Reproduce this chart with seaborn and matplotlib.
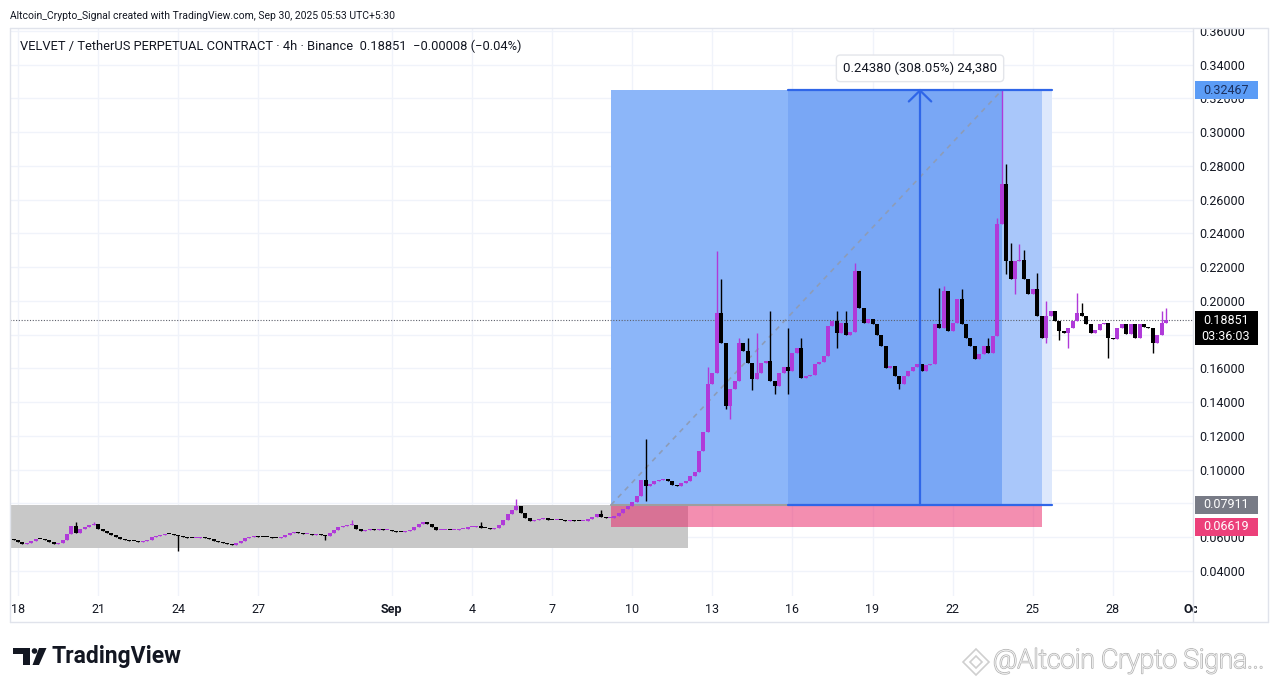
import matplotlib
matplotlib.use("Agg")
import matplotlib.pyplot as plt
import matplotlib.patches as mpatches
import matplotlib.patheffects as pe
from matplotlib.transforms import Affine2D, Bbox, TransformedBbox, blended_transform_factory
import numpy as np
import pandas as pd
import seaborn as sns

# ---- VELVET/USDT perpetual, 4h candles ----
first_bar = "2025-08-17 16:00"
first_open = 0.0596
closes = [
    0.0590, 0.0585, 0.0570, 0.0558, 0.0565, 0.0578, 0.0588, 0.0586, 0.0582, 0.0572,  # 0
    0.0560, 0.0568, 0.0585, 0.0620, 0.0665, 0.0625, 0.0650, 0.0660, 0.0672, 0.0678,  # 10
    0.0648, 0.0635, 0.0625, 0.0615, 0.0600, 0.0590, 0.0582, 0.0578, 0.0575, 0.0572,  # 20
    0.0575, 0.0585, 0.0598, 0.0608, 0.0615, 0.0618, 0.0617, 0.0612, 0.0605, 0.0598,  # 30
    0.0595, 0.0592, 0.0595, 0.0598, 0.0594, 0.0590, 0.0578, 0.0572, 0.0565, 0.0560,  # 40
    0.0555, 0.0565, 0.0578, 0.0592, 0.0600, 0.0605, 0.0603, 0.0600, 0.0598, 0.0596,  # 50
    0.0594, 0.0600, 0.0610, 0.0622, 0.0632, 0.0625, 0.0618, 0.0620, 0.0615, 0.0617,  # 60
    0.0613, 0.0605, 0.0625, 0.0645, 0.0660, 0.0665, 0.0670, 0.0672, 0.0650, 0.0638,  # 70
    0.0645, 0.0648, 0.0644, 0.0646, 0.0642, 0.0645, 0.0636, 0.0632, 0.0630, 0.0634,  # 80
    0.0645, 0.0662, 0.0680, 0.0692, 0.0675, 0.0660, 0.0640, 0.0642, 0.0645, 0.0640,  # 90
    0.0643, 0.0646, 0.0650, 0.0658, 0.0662, 0.0666, 0.0655, 0.0652, 0.0648, 0.0655,  # 100
    0.0672, 0.0700, 0.0735, 0.0760, 0.0783, 0.0745, 0.0712, 0.0698, 0.0702, 0.0710,  # 110
    0.0713, 0.0702, 0.0700, 0.0703, 0.0700, 0.0698, 0.0699, 0.0695, 0.0693, 0.0697,  # 120
    0.0705, 0.0722, 0.0735, 0.0718, 0.0712, 0.0715, 0.0728, 0.0745, 0.0765, 0.0782,  # 130
    0.0810, 0.0843, 0.0940, 0.0900, 0.0915, 0.0930, 0.0938, 0.0944, 0.0930, 0.0910,  # 140
    0.0902, 0.0918, 0.0935, 0.0960, 0.0985, 0.1110, 0.1220, 0.1510, 0.1570, 0.1930,  # 150
    0.1750, 0.1377, 0.1480, 0.1525, 0.1750, 0.1700, 0.1630, 0.1537, 0.1575, 0.1630,  # 160
    0.1645, 0.1525, 0.1496, 0.1570, 0.1610, 0.1585, 0.1690, 0.1720, 0.1540, 0.1555,  # 170
    0.1560, 0.1626, 0.1640, 0.1674, 0.1850, 0.1880, 0.1810, 0.1870, 0.1800, 0.1815,  # 180
    0.2178, 0.1958, 0.1870, 0.1890, 0.1865, 0.1800, 0.1733, 0.1600, 0.1615, 0.1555,  # 190
    0.1507, 0.1555, 0.1585, 0.1610, 0.1626, 0.1584, 0.1620, 0.1625, 0.1863, 0.1840,  # 200
    0.2060, 0.1820, 0.1867, 0.2012, 0.1864, 0.1780, 0.1733, 0.1656, 0.1685, 0.1733,  # 210
    0.1690, 0.1790, 0.2457, 0.2694, 0.2237, 0.2130, 0.2237, 0.2245, 0.2130, 0.2040,  # 220
    0.2070, 0.1910, 0.1780, 0.1910, 0.1940, 0.1880, 0.1820, 0.1810, 0.1840, 0.1880,  # 230
    0.1930, 0.1910, 0.1864, 0.1810, 0.1825, 0.1860, 0.1870, 0.1780, 0.1775, 0.1840,  # 240
    0.1860, 0.1804, 0.1860, 0.1780, 0.1860, 0.1845, 0.1840, 0.1750, 0.1800, 0.1870,  # 250
    0.1885,
]
# wick extremes that stick out of the bodies (bar index -> price)
wick_high = {15: 0.0690, 19: 0.0690, 77: 0.0700, 106: 0.0690, 114: 0.0825, 133: 0.0760,
             143: 0.1180, 157: 0.1610, 159: 0.2297, 160: 0.2130, 164: 0.1780, 166: 0.1780,
             168: 0.1810, 171: 0.1940, 175: 0.1840, 178: 0.1780, 186: 0.1940, 188: 0.1940,
             190: 0.2226, 209: 0.2077, 210: 0.2090, 214: 0.2070, 220: 0.1780, 222: 0.2490,
             223: 0.32467, 224: 0.2810, 225: 0.2340, 227: 0.2335, 228: 0.2300, 231: 0.2164,
             233: 0.2000, 240: 0.2047, 241: 0.1990, 259: 0.1940, 260: 0.1955}
wick_low = {38: 0.0516, 71: 0.0585, 143: 0.0815, 161: 0.1360, 162: 0.1300, 167: 0.1470,
            172: 0.1450, 175: 0.1450, 186: 0.1720, 200: 0.1480, 224: 0.2160, 226: 0.2040,
            233: 0.1750, 236: 0.1770, 238: 0.1720, 247: 0.1660, 257: 0.1690}

# drawings on the chart
last_price = 0.18851
last_countdown = "03:36:03"
entry_price = 0.07911
target_price = 0.32467
stop_price = 0.06619
trade_start = "2025-09-09 05:00"
trade_end = "2025-09-25 08:20"
target_hit = "2025-09-23 20:00"
range_start = "2025-09-15 20:10"
range_mid = "2025-09-20 18:40"
range_end = "2025-09-25 17:30"
range_label = "0.24380 (308.05%) 24,380"
box_start = "2025-08-17 00:00"
box_end = "2025-09-12 02:10"
box_low = 0.0535

price_ticks = [0.04, 0.06, 0.08, 0.10, 0.12, 0.14, 0.16, 0.18, 0.20, 0.22, 0.24,
               0.26, 0.28, 0.30, 0.32, 0.34, 0.36]
date_ticks = ["2025-08-18", "2025-08-21", "2025-08-24", "2025-08-27", "2025-09-01",
              "2025-09-04", "2025-09-07", "2025-09-10", "2025-09-13", "2025-09-16",
              "2025-09-19", "2025-09-22", "2025-09-25", "2025-09-28"]
date_labels = ["18", "21", "24", "27", "Sep", "4", "7", "10", "13", "16", "19", "22", "25", "28"]
next_month = ("2025-10-01", "Oct")

PURPLE = "#b03ad9"
BLACK = "#000000"
TXT = "#131722"

origin = pd.Timestamp("2025-08-18")


def day(t):
    return (pd.Timestamp(t) - origin) / pd.Timedelta(days=1)


df = pd.DataFrame({"time": pd.date_range(first_bar, periods=len(closes), freq="4h"),
                   "close": closes})
df["open"] = [first_open] + closes[:-1]
df["high"] = [max(o, c, wick_high.get(i, 0)) for i, (o, c) in enumerate(zip(df.open, df.close))]
df["low"] = [min(o, c, wick_low.get(i, 1)) for i, (o, c) in enumerate(zip(df.open, df.close))]
df["x"] = (df.time - origin) / pd.Timedelta(days=1)
df["up"] = df.close >= df.open

sns.set_theme(style="white")
plt.rcParams["font.family"] = ["Roboto", "DejaVu Sans"]

W, H = 1280, 689
fig = plt.figure(figsize=(W / 100, H / 100), dpi=100)
fig.patch.set_facecolor("white")
ax_l, ax_r, ax_t, ax_b = 10, 1193, 28, 596
ax = fig.add_axes([ax_l / W, 1 - ax_b / H, (ax_r - ax_l) / W, (ax_b - ax_t) / H])
ax.set_xlim(-0.30, 44.0)
ax.set_ylim(0.0251, 0.3617)
for s in ax.spines.values():
    s.set_visible(False)
ax.set_facecolor("white")
ax.grid(True, color="#f0f3fa", lw=1)
ax.set_axisbelow(True)

# gray consolidation box
ax.add_patch(mpatches.Rectangle((day(box_start), box_low), day(box_end) - day(box_start),
                                entry_price - box_low, fc="#c8c8c8", ec="none", zorder=1))

# long position: profit area shades + stop area
ts, te, th = day(trade_start), day(trade_end), day(target_hit)
rs, rm, re_ = day(range_start), day(range_mid), day(range_end)
for x0, x1, c in [(ts, rs, "#8cb6f9"), (rs, th, "#79a7f5"), (th, te, "#a9c7fa"), (te, re_, "#dde8fc")]:
    ax.add_patch(mpatches.Rectangle((x0, entry_price), x1 - x0, target_price - entry_price,
                                    fc=c, ec="none", zorder=2))
ax.add_patch(mpatches.Rectangle((ts, stop_price), te - ts, entry_price - stop_price,
                                fc="#e91e63", ec="none", alpha=0.5, zorder=2))
ax.plot([ts, te], [entry_price, entry_price], color="#9e9e9e", lw=1.5, zorder=3)

# trade path (dashed)
sns.lineplot(x=[ts, th], y=[entry_price, target_price], ax=ax, color="#8d9cb8",
             lw=1.2, linestyle=(0, (3, 3)), zorder=4)

# last price line
ax.axhline(last_price, color="#5d606b", lw=0.8, linestyle=(0, (1, 1.5)), zorder=4)

# candles
col = np.where(df.up, PURPLE, BLACK)
ax.vlines(df.x, df.low, df.high, colors=col, lw=1.0, zorder=5)
body_bottom = np.minimum(df.open, df.close)
body_h = np.maximum((df.close - df.open).abs(), 0.0006)
ax.bar(df.x, body_h, bottom=body_bottom, width=0.15, color=col, lw=0, zorder=6)

# price range measure
BLUE = "#2f66e8"
ax.plot([rs, re_], [target_price, target_price], color=BLUE, lw=1.6, zorder=7)
ax.plot([rs, re_], [entry_price, entry_price], color=BLUE, lw=1.6, zorder=7)
ax.plot([rm, rm], [entry_price, target_price], color=BLUE, lw=1.6, zorder=7)
ax.plot([rm - 0.42, rm, rm + 0.42], [target_price - 0.0065, target_price, target_price - 0.0065],
        color=BLUE, lw=1.6, zorder=7, solid_joinstyle="miter")
ax.text(rm, 0.3378, range_label, ha="center", va="center", fontsize=9.5, color=TXT, zorder=9,
        bbox=dict(boxstyle="round,pad=0.5,rounding_size=0.3", fc="white", ec="#e3e5ea", lw=1))

# axes ticks
ax.yaxis.tick_right()
ax.set_yticks(price_ticks)
ax.set_yticklabels([f"{p:.5f}" for p in price_ticks])
ax.set_xticks([day(t) for t in date_ticks])
ax.set_xticklabels(date_labels)
ax.tick_params(axis="y", length=0, pad=4.5, labelsize=9, labelcolor=TXT)
ax.tick_params(axis="x", length=0, pad=5, labelsize=9, labelcolor=TXT)
ax.get_xticklabels()[4].set_fontweight("bold")
t_oct = ax.text(day(next_month[0]), -0.012, next_month[1],
                transform=blended_transform_factory(ax.transData, ax.transAxes),
                ha="center", va="top", fontsize=9, color=TXT, fontweight="bold")
t_oct.set_clip_box(TransformedBbox(Bbox([[0, 0], [1197 / W, 1]]), fig.transFigure))
t_oct.set_clip_on(True)

# price tags on the scale
lab_tf = blended_transform_factory(fig.transFigure, ax.transData)
px = (0.3617 - 0.0251) / (ax_b - ax_t)


def price_tag(price, lines, fc, tc):
    top = price + 9 * px
    h = (18 + 16 * (len(lines) - 1)) * px
    ax.add_patch(mpatches.Rectangle((1195 / W, top - h), 63 / W, h, transform=lab_tf, fc=fc, ec="none",
                                    zorder=10, clip_on=False))
    for k, s in enumerate(lines):
        ax.text(1226 / W, price - 16 * k * px, s, transform=lab_tf, ha="center", va="center",
                fontsize=9, color=tc, zorder=11, clip_on=False)


price_tag(target_price, [f"{target_price:.5f}"], "#5b9cf6", "#1c3160")
price_tag(last_price, [f"{last_price:.5f}", last_countdown], "#000000", "white")
price_tag(entry_price, [f"{entry_price:.5f}"], "#787b86", "white")
price_tag(stop_price, [f"{stop_price:.5f}"], "#ec407a", "white")

# header / frame
pix = Affine2D().scale(1 / W, -1 / H).translate(0, 1) + fig.transFigure
fig.patches.append(mpatches.Rectangle((0, 0), W, ax_t, transform=pix, fc="white", ec="none", zorder=20))
for xs, ys in [([10, 1268], [28, 28]), ([10, 1268], [622, 622]), ([1193, 1193], [28, 622]),
               ([1268, 1268], [28, 622]), ([10, 10], [28, 622])]:
    fig.lines.append(plt.Line2D(xs, ys, transform=pix, color="#e0e3eb", lw=1, zorder=21))
fig.text(10 / W, 1 - 16 / H, "Altcoin_Crypto_Signal created with TradingView.com, Sep 30, 2025 05:53 UTC+5:30",
         fontsize=7.5, color=TXT, va="center", zorder=22)
fig.text(20 / W, 1 - 46 / H, "VELVET / TetherUS PERPETUAL CONTRACT · 4h · Binance  0.18851  −0.00008 (−0.04%)",
         fontsize=9.3, color=TXT, va="center", zorder=22)

# TradingView logo
fig.patches.append(mpatches.Polygon([(13, 648), (30, 648), (30, 665), (23, 665), (23, 654), (13, 654)],
                                    closed=True, transform=pix, fc=TXT, ec="none", zorder=22))
fig.patches.append(mpatches.Circle((34.5, 651), 2.8, transform=pix, fc=TXT, ec="none", zorder=22))
fig.patches.append(mpatches.Polygon([(39, 648), (46.5, 648), (39, 665), (32.5, 665)],
                                    closed=True, transform=pix, fc=TXT, ec="none", zorder=22))
fig.text(52 / W, 1 - 656 / H, "TradingView", fontsize=16.5, fontweight="bold", color=TXT, va="center", zorder=22)

# watermark
fig.patches.append(mpatches.Polygon([(976, 649), (989, 662), (976, 675), (963, 662)], closed=True,
                                    transform=pix, fc="none", ec="#cfcfcf", lw=1.2, zorder=22))
fig.patches.append(mpatches.Polygon([(976, 656), (982, 662), (976, 668), (970, 662)], closed=True,
                                    transform=pix, fc="none", ec="#cfcfcf", lw=1.2, zorder=22))
fig.text(993 / W, 1 - 661 / H, "@Altcoin Crypto Signa...", fontsize=19, fontweight="light", color="white",
         va="center", zorder=22, path_effects=[pe.withStroke(linewidth=1.3, foreground="#bdbdbd")])

fig.savefig("out.png", dpi=100, facecolor="white")
